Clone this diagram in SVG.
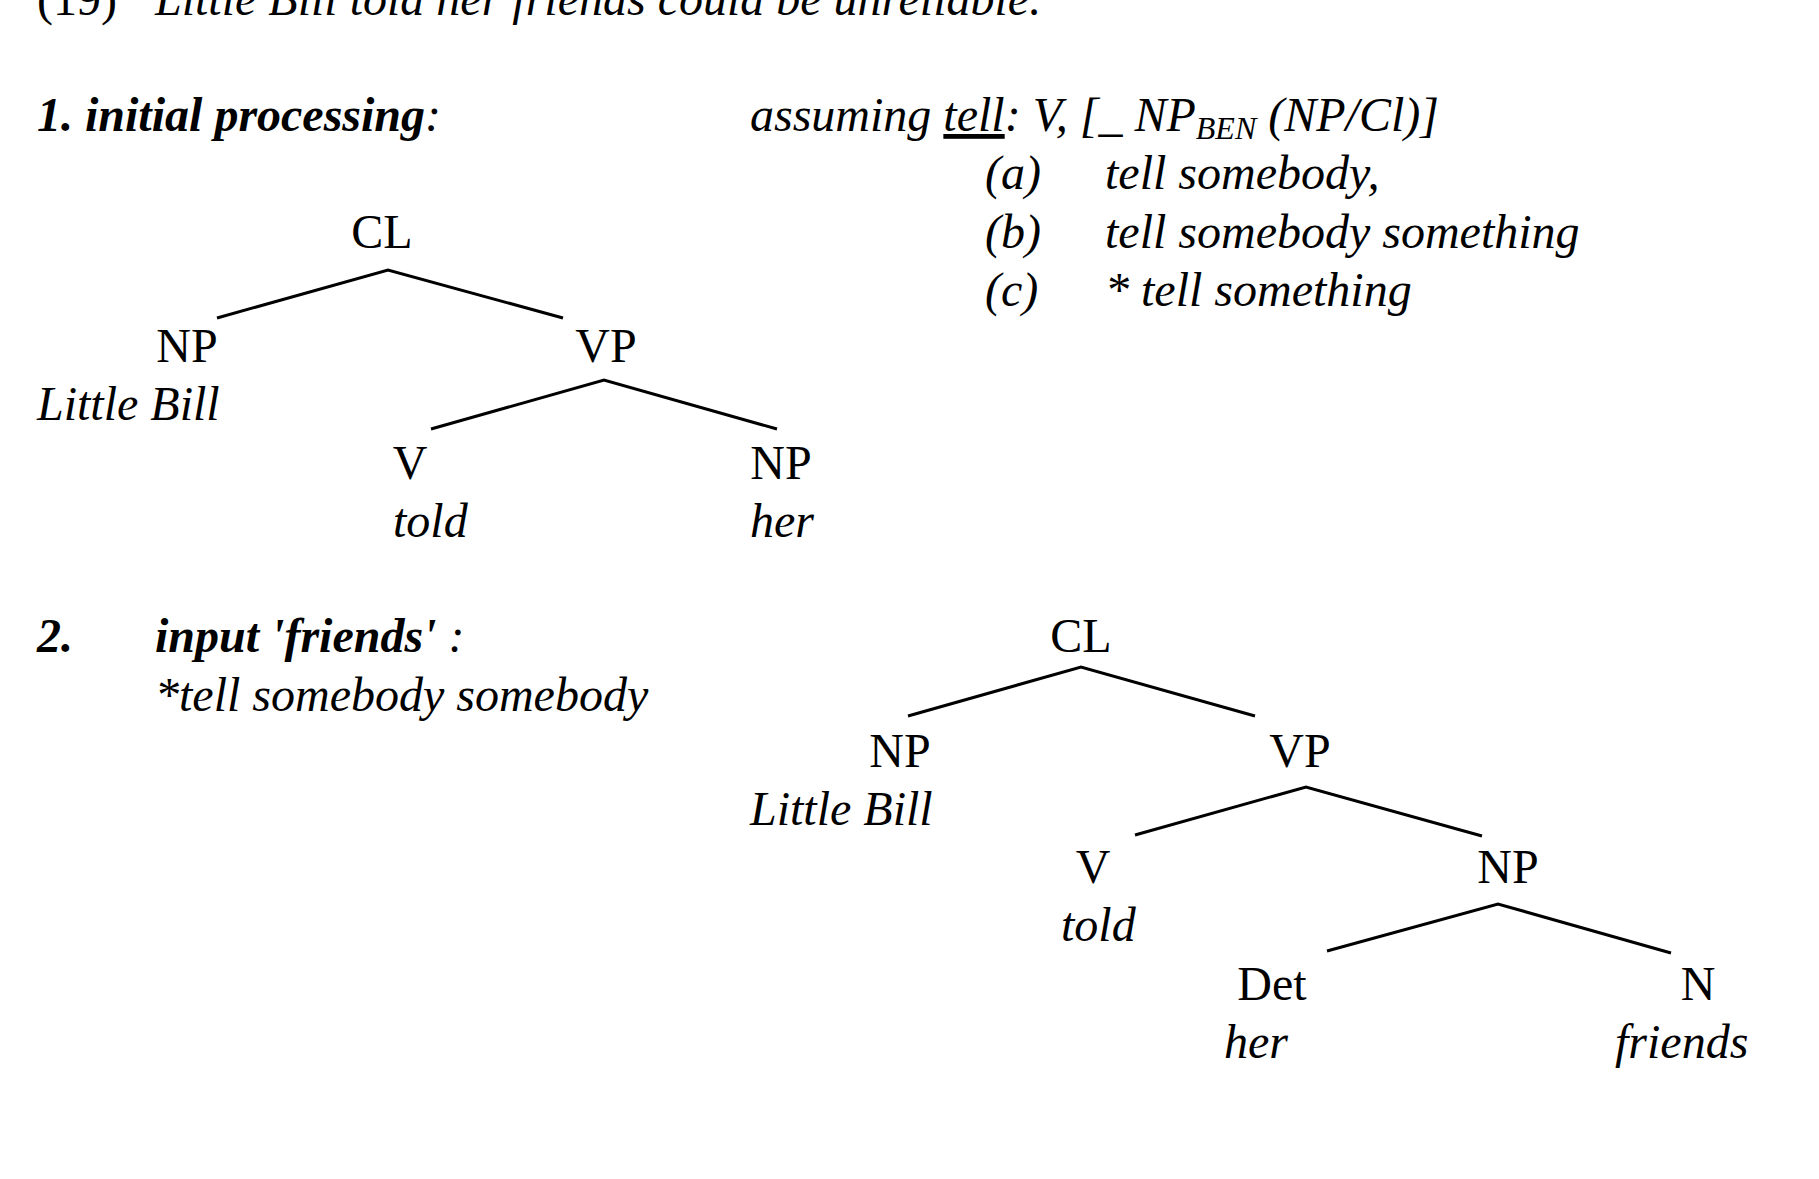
<svg xmlns="http://www.w3.org/2000/svg" width="1819" height="1179" viewBox="0 0 1819 1179">
<style>
text{font-family:"Liberation Serif","Times New Roman",serif;font-size:48px;fill:#000}
.i{font-style:italic}
.b{font-weight:bold;font-style:italic}
.c{text-anchor:middle}
</style>
<rect width="1819" height="1179" fill="#fff"/>
<g id="header">
<text x="37" y="15">(19)</text>
<text x="155" y="15" class="i">Little Bill told her friends could be unreliable.</text>
<text x="37" y="131" class="b">1. initial processing<tspan font-weight="normal">:</tspan></text>
<text x="750" y="131" class="i">assuming <tspan text-decoration="underline">tell</tspan>: V, [_ NP<tspan font-size="32" dy="8">BEN</tspan><tspan dy="-8"> (NP/Cl)]</tspan></text>
<text x="985" y="189" class="i">(a)</text><text x="1105" y="189" class="i">tell somebody,</text>
<text x="985" y="248" class="i">(b)</text><text x="1105" y="248" class="i">tell somebody something</text>
<text x="985" y="306" class="i">(c)</text><text x="1105" y="306" class="i">* tell something</text>
<text x="37" y="652" class="b">2.</text>
<text x="155" y="652" class="b">input 'friends' <tspan font-weight="normal">:</tspan></text>
<text x="155" y="711" class="i">*tell somebody somebody</text>
</g>
<g id="connectors" fill="none" stroke="#000" stroke-width="3">
<polyline points="217,318 388,270 563,318"/>
<polyline points="431,429 604,380 777,429"/>
<polyline points="908,716 1081,667 1255,716"/>
<polyline points="1135,835 1306,787 1482,836"/>
<polyline points="1327,951 1498,904 1671,953"/>
</g>
<g id="tree1">
<g id="t1-cl"><text x="382" y="248" class="c">CL</text></g>
<g id="t1-np"><text x="187" y="362" class="c">NP</text><text x="37" y="420" class="i">Little Bill</text></g>
<g id="t1-vp"><text x="606" y="362" class="c">VP</text></g>
<g id="t1-v"><text x="410" y="479" class="c">V</text><text x="393" y="537" class="i">told</text></g>
<g id="t1-np2"><text x="781" y="479" class="c">NP</text><text x="750" y="537" class="i">her</text></g>
</g>
<g id="tree2">
<g id="t2-cl"><text x="1081" y="652" class="c">CL</text></g>
<g id="t2-np"><text x="900" y="767" class="c">NP</text><text x="750" y="825" class="i">Little Bill</text></g>
<g id="t2-vp"><text x="1300" y="767" class="c">VP</text></g>
<g id="t2-v"><text x="1093" y="883" class="c">V</text><text x="1061" y="941" class="i">told</text></g>
<g id="t2-np2"><text x="1508" y="883" class="c">NP</text></g>
<g id="t2-det"><text x="1272" y="1000" class="c">Det</text><text x="1224" y="1058" class="i">her</text></g>
<g id="t2-n"><text x="1698" y="1000" class="c">N</text><text x="1615" y="1058" class="i">friends</text></g>
</g>
</svg>
